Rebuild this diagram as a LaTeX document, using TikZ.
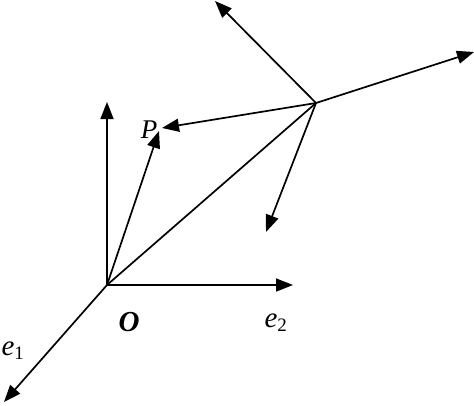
\documentclass[tikz,border=0pt]{standalone}
\usepackage{fontspec}
\setmainfont{Liberation Serif}
\usetikzlibrary{arrows.meta}

\begin{document}
\begin{tikzpicture}[x=1pt, y=-1pt,
    vec/.style={-{Triangle[length=17pt,width=13pt]}, line width=1.7pt},
    lbl/.style={inner sep=0pt, font=\fontsize{29}{34}\selectfont\itshape}]
        \useasboundingbox (0,0) rectangle (474,405);
        % Points
        \coordinate (origin) at (107,285);
        \coordinate (hub) at (316,103);
        \coordinate (up) at (107,102);
        \coordinate (right) at (293,285);
        \coordinate (down-left) at (4,402);
        \coordinate (p-from-o) at (159,131);
        \coordinate (p-from-hub) at (162,128);
        \coordinate (hub-nw) at (215,1);
        \coordinate (hub-e) at (474,52);
        \coordinate (hub-s) at (266,232);
        % Labels
        \node (p) [lbl, font=\fontsize{27}{30}\selectfont\itshape] at (149,130) {P};
        \node (o) [lbl, font=\fontsize{29}{34}\selectfont\bfseries\itshape] at (129,322) {O};
        \node (e2) [lbl] at (276,323) {e\textsubscript{\fontsize{19}{22}\selectfont\upshape 2}};
        \node (e1) [lbl] at (13,351) {e\textsubscript{\fontsize{19}{22}\selectfont\upshape 1}};
        % Arrows
        \draw[vec] (origin) -- (up);
        \draw[vec] (origin) -- (right);
        \draw[vec] (origin) -- (down-left);
        \draw[vec] (origin) -- (p-from-o);
        \draw[line width=1.7pt] (origin) -- (hub);
        \draw[vec] (hub) -- (p-from-hub);
        \draw[vec] (hub) -- (hub-nw);
        \draw[vec] (hub) -- (hub-e);
        \draw[vec] (hub) -- (hub-s);
\end{tikzpicture}
\end{document}
